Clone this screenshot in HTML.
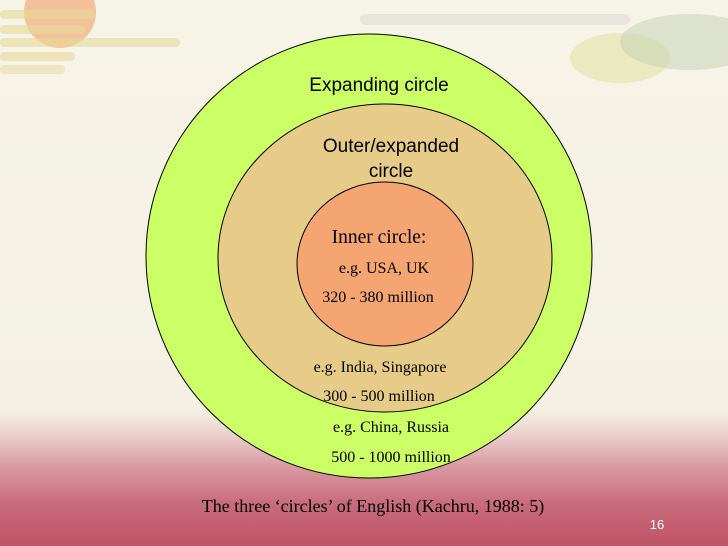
<!DOCTYPE html>
<html><head><style>
html,body{margin:0;padding:0}
body{width:728px;height:546px;overflow:hidden;position:relative;
background:linear-gradient(to bottom,#f6f4e6 0px,#f4f1e4 410px,#ead0cc 435px,#d8959e 470px,#c86a7a 505px,#be5467 546px);}
svg{position:absolute;left:0;top:0}
</style></head><body>
<svg width="728" height="546" viewBox="0 0 728 546">
  <circle cx="60" cy="12" r="36" fill="#f2a06a" opacity="0.6"/>
  <rect x="0" y="10" width="95" height="9" rx="4" fill="#e6d89a" opacity="0.6"/>
  <rect x="0" y="25" width="85" height="9" rx="4" fill="#e6d89a" opacity="0.6"/>
  <rect x="0" y="38" width="180" height="9" rx="4" fill="#e6d89a" opacity="0.6"/>
  <rect x="0" y="52" width="75" height="9" rx="4" fill="#e6d89a" opacity="0.6"/>
  <rect x="0" y="65" width="65" height="9" rx="4" fill="#e6d89a" opacity="0.5"/>
  <rect x="360" y="14" width="270" height="11" rx="5" fill="#dcdcd6" opacity="0.6"/>
  <ellipse cx="620" cy="58" rx="50" ry="25" fill="#e2e3a8" opacity="0.6"/>
  <ellipse cx="690" cy="42" rx="70" ry="28" fill="#c2d0b0" opacity="0.5"/>
  <ellipse cx="369" cy="256" rx="223" ry="222" fill="#ccff66" stroke="#000" stroke-width="1"/>
  <ellipse cx="385" cy="258" rx="167" ry="154" fill="#e6cc88" stroke="#000" stroke-width="1"/>
  <ellipse cx="385" cy="264" rx="88" ry="82" fill="#f4a572" stroke="#000" stroke-width="1"/>
  <g font-family="Liberation Sans, sans-serif" font-size="19" fill="#000" text-anchor="middle">
    <text x="379" y="91">Expanding circle</text>
    <text x="391" y="152">Outer/expanded</text>
    <text x="391" y="177">circle</text>
  </g>
  <g font-family="Liberation Serif, serif" fill="#000" text-anchor="middle">
    <text x="379" y="243" font-size="19.5">Inner circle:</text>
    <text x="384" y="273" font-size="16">e.g. USA, UK</text>
    <text x="378" y="302" font-size="16">320 - 380 million</text>
    <text x="380" y="372" font-size="16">e.g. India, Singapore</text>
    <text x="379" y="401" font-size="16">300 - 500 million</text>
    <text x="391" y="432" font-size="16">e.g. China, Russia</text>
    <text x="391" y="462" font-size="16">500 - 1000 million</text>
    <text x="373" y="512" font-size="18">The three ‘circles’ of English (Kachru, 1988: 5)</text>
  </g>
  <text x="657" y="529" font-family="Liberation Sans, sans-serif" font-size="13" fill="#fff" text-anchor="middle">16</text>
</svg>
</body></html>
